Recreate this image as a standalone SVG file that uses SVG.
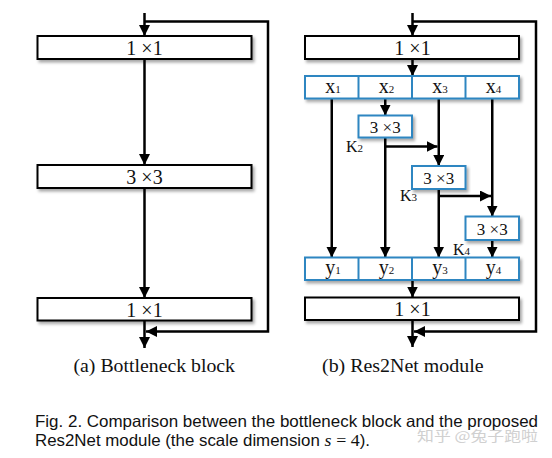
<svg xmlns="http://www.w3.org/2000/svg" width="552" height="458" viewBox="0 0 552 458">
<defs>
<filter id="sh" x="-10%" y="-30%" width="120%" height="180%">
<feDropShadow dx="2" dy="2.5" stdDeviation="1.5" flood-color="#000" flood-opacity="0.35"/>
</filter>
<marker id="ah" viewBox="0 0 10 10" refX="10" refY="5" markerWidth="4.4" markerHeight="4.4" markerUnits="strokeWidth" orient="auto">
<path d="M0,0 L10,5 L0,10 z" fill="#000"/>
</marker>
</defs>
<style>
.box{fill:#fff;stroke:#000;stroke-width:2;filter:url(#sh)}
.bbox{fill:#fff;stroke:#2e86c1;stroke-width:2;filter:url(#sh)}
.div{stroke:#2e86c1;stroke-width:2}
.ln{fill:none;stroke:#000;stroke-width:2.5}
.arr{fill:none;stroke:#000;stroke-width:2.5;marker-end:url(#ah)}
.t{font-family:"Liberation Serif","Times New Roman",serif;font-size:20px;fill:#111;text-anchor:middle}
.ts{font-family:"Liberation Serif","Times New Roman",serif;font-size:17px;fill:#111;text-anchor:middle}
.k{font-family:"Liberation Serif","Times New Roman",serif;font-size:16px;fill:#111}
.sub{font-size:11px}
.cap{font-family:"Liberation Serif","Times New Roman",serif;font-size:19px;fill:#111}
.fig{font-family:"Liberation Sans",Arial,sans-serif;font-size:16.5px;fill:#111}
</style>
<rect width="552" height="458" fill="#fff"/>

<g id="connectors">
<path class="arr" d="M144.5,13 V36"/>
<path class="arr" d="M144.5,21.5 H268 V331.5 H146"/>
<path class="arr" d="M144.5,59 V165"/>
<path class="arr" d="M144.5,188 V298"/>
<path class="arr" d="M144.5,320.5 V348"/>
<path class="arr" d="M412.5,13 V36"/>
<path class="arr" d="M412.5,21.5 H536 V331.5 H414"/>
<path class="arr" d="M412.5,59 V76"/>
<path class="arr" d="M331.75,98.5 V257.5"/>
<path class="arr" d="M385.25,98.5 V115.5"/>
<path class="arr" d="M385.25,137.5 V257.5"/>
<path class="arr" d="M385.25,146.5 H437.5"/>
<path class="arr" d="M438.75,98.5 V166"/>
<path class="arr" d="M438.75,189 V257.5"/>
<path class="arr" d="M438.75,196 H491"/>
<path class="arr" d="M492.25,98.5 V216.5"/>
<path class="arr" d="M492.25,240 V257.5"/>
<path class="arr" d="M412.5,280 V297.5"/>
<path class="arr" d="M412.5,320 V347"/>
</g>

<g id="a_conv1">
<rect class="box" x="37.5" y="36" width="214" height="23"/>
<text class="t" x="144.5" y="54.5">1 ×1</text>
</g>
<g id="a_conv3">
<rect class="box" x="37.5" y="165" width="214" height="23"/>
<text class="t" x="144.5" y="183.5">3 ×3</text>
</g>
<g id="a_conv1b">
<rect class="box" x="37.5" y="298" width="214" height="22.5"/>
<text class="t" x="144.5" y="316.5">1 ×1</text>
</g>

<g id="b_conv1">
<rect class="box" x="305" y="36" width="214" height="23"/>
<text class="t" x="412.5" y="54.5">1 ×1</text>
</g>
<g id="b_xrow">
<rect class="bbox" x="305" y="76" width="214" height="22.5"/>
<line class="div" x1="358.5" y1="76" x2="358.5" y2="98.5"/>
<line class="div" x1="412" y1="76" x2="412" y2="98.5"/>
<line class="div" x1="465.5" y1="76" x2="465.5" y2="98.5"/>
<text class="t" x="333" y="93">x<tspan class="sub">1</tspan></text>
<text class="t" x="386.5" y="93">x<tspan class="sub">2</tspan></text>
<text class="t" x="440" y="93">x<tspan class="sub">3</tspan></text>
<text class="t" x="493.5" y="93">x<tspan class="sub">4</tspan></text>
</g>
<g id="b_k2">
<rect class="bbox" x="358.5" y="115.5" width="53.5" height="22"/>
<text class="ts" x="385.25" y="132.5">3 ×3</text>
<text class="k" x="346" y="151.5">K<tspan class="sub">2</tspan></text>
</g>
<g id="b_k3">
<rect class="bbox" x="412" y="166" width="53.5" height="23"/>
<text class="ts" x="438.75" y="183.5">3 ×3</text>
<text class="k" x="400" y="201">K<tspan class="sub">3</tspan></text>
</g>
<g id="b_k4">
<rect class="bbox" x="465.5" y="216.5" width="53.5" height="23.5"/>
<text class="ts" x="492.25" y="234.5">3 ×3</text>
<text class="k" x="453" y="254.5">K<tspan class="sub">4</tspan></text>
</g>
<g id="b_yrow">
<rect class="bbox" x="305" y="257.5" width="214" height="22.5"/>
<line class="div" x1="358.5" y1="257.5" x2="358.5" y2="280"/>
<line class="div" x1="412" y1="257.5" x2="412" y2="280"/>
<line class="div" x1="465.5" y1="257.5" x2="465.5" y2="280"/>
<text class="t" x="333" y="274">y<tspan class="sub">1</tspan></text>
<text class="t" x="386.5" y="274">y<tspan class="sub">2</tspan></text>
<text class="t" x="440" y="274">y<tspan class="sub">3</tspan></text>
<text class="t" x="493.5" y="274">y<tspan class="sub">4</tspan></text>
</g>
<g id="b_conv1b">
<rect class="box" x="305" y="297.5" width="214" height="22.5"/>
<text class="t" x="412.5" y="316">1 ×1</text>
</g>

<g id="captions">
<text class="cap" x="73.5" y="371.5" textLength="161.5" lengthAdjust="spacingAndGlyphs">(a) Bottleneck block</text>
<text class="cap" x="322" y="371.5" textLength="161.5" lengthAdjust="spacingAndGlyphs">(b) Res2Net module</text>
<text class="fig" x="35" y="426.5" textLength="503" lengthAdjust="spacingAndGlyphs">Fig. 2. Comparison between the bottleneck block and the proposed</text>
<text class="fig" x="35" y="445.5" textLength="335" lengthAdjust="spacingAndGlyphs">Res2Net module (the scale dimension <tspan font-family="Liberation Serif, serif" font-style="italic" font-size="17.5">s</tspan> <tspan font-family="Liberation Serif, serif" font-size="17.5">= 4</tspan>).</text>
<text x="417" y="441" font-family="'Noto Sans CJK SC',sans-serif" font-size="13.5" fill="#d0d0d0" textLength="121" lengthAdjust="spacingAndGlyphs">知乎 @兔子跑啦</text>
</g>
</svg>
